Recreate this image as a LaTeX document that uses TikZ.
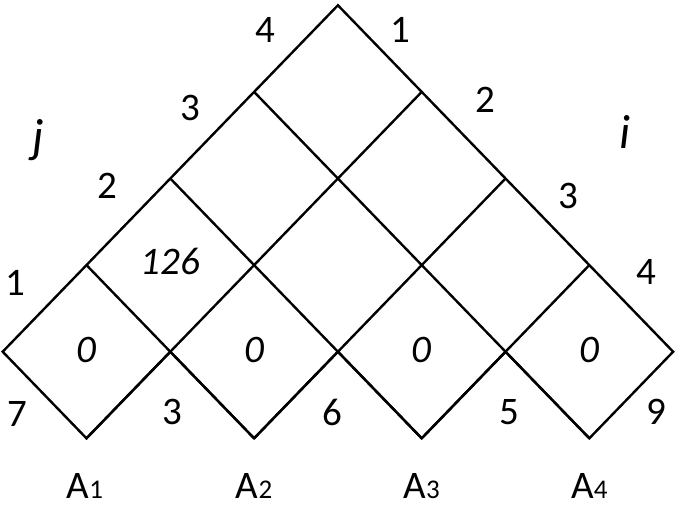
\documentclass[tikz,border=0pt]{standalone}
\usepackage{fontspec}
\setmainfont{Carlito}
\usepackage{tikz}

\begin{document}
\begin{tikzpicture}[x=83.8pt,y=86.6pt,line width=2.4pt,line join=miter]
  \tikzstyle{num}=[inner sep=0pt,font=\fontsize{39}{44}\selectfont]
  \tikzstyle{val}=[num,font=\fontsize{39}{44}\selectfont\itshape]
  \tikzstyle{idx}=[inner sep=0pt,anchor=base,font=\fontsize{48}{52}\selectfont\itshape]
  \useasboundingbox (-0.032,-1.770) rectangle (8.046,4.061);
  % outline of the table
  \draw (0,0) -- (4,4) -- (8,0) -- (7,-1) -- (6,0) -- (5,-1) -- (4,0) -- (3,-1) -- (2,0) -- (1,-1) -- cycle;
  % inner lines
  \draw (1,-1) -- (5,3);
  \draw (3,-1) -- (6,2);
  \draw (5,-1) -- (7,1);
  \draw (7,-1) -- (3,3);
  \draw (5,-1) -- (2,2);
  \draw (3,-1) -- (1,1);
  % j and i labels
  \node[idx] (J) at (0.42,2.30) {j};
  \node[idx] (I) at (7.42,2.35) {i};
  \node[num] (J4) at (3.13,3.71) {4};
  \node[num] (J3) at (2.24,2.81) {3};
  \node[num] (J2) at (1.25,1.92) {2};
  \node[num] (J1) at (0.15,0.79) {1};
  \node[num] (I1) at (4.74,3.71) {1};
  \node[num] (I2) at (5.76,2.91) {2};
  \node[num] (I3) at (6.75,1.80) {3};
  \node[num] (I4) at (7.68,0.92) {4};
  % cell values
  \node[val] (M11) at (1,0.02) {0};
  \node[val] (M22) at (3,0.02) {0};
  \node[val] (M33) at (5,0.02) {0};
  \node[val] (M44) at (7,0.02) {0};
  \node[val] (M12) at (2,1.04) {126};
  % dimensions
  \node[num] (P0) at (0.18,-0.72) {7};
  \node[num] (P1) at (2.02,-0.70) {3};
  \node[num] (P2) at (3.93,-0.70) {6};
  \node[num] (P3) at (6.04,-0.70) {5};
  \node[num] (P4) at (7.80,-0.70) {9};
  % matrices
  \node[num] (A1) at (0.98,-1.55) {A{\fontsize{27}{30}\selectfont 1}};
  \node[num] (A2) at (3.00,-1.55) {A{\fontsize{27}{30}\selectfont 2}};
  \node[num] (A3) at (5.00,-1.55) {A{\fontsize{27}{30}\selectfont 3}};
  \node[num] (A4) at (7.00,-1.55) {A{\fontsize{27}{30}\selectfont 4}};
\end{tikzpicture}
\end{document}
